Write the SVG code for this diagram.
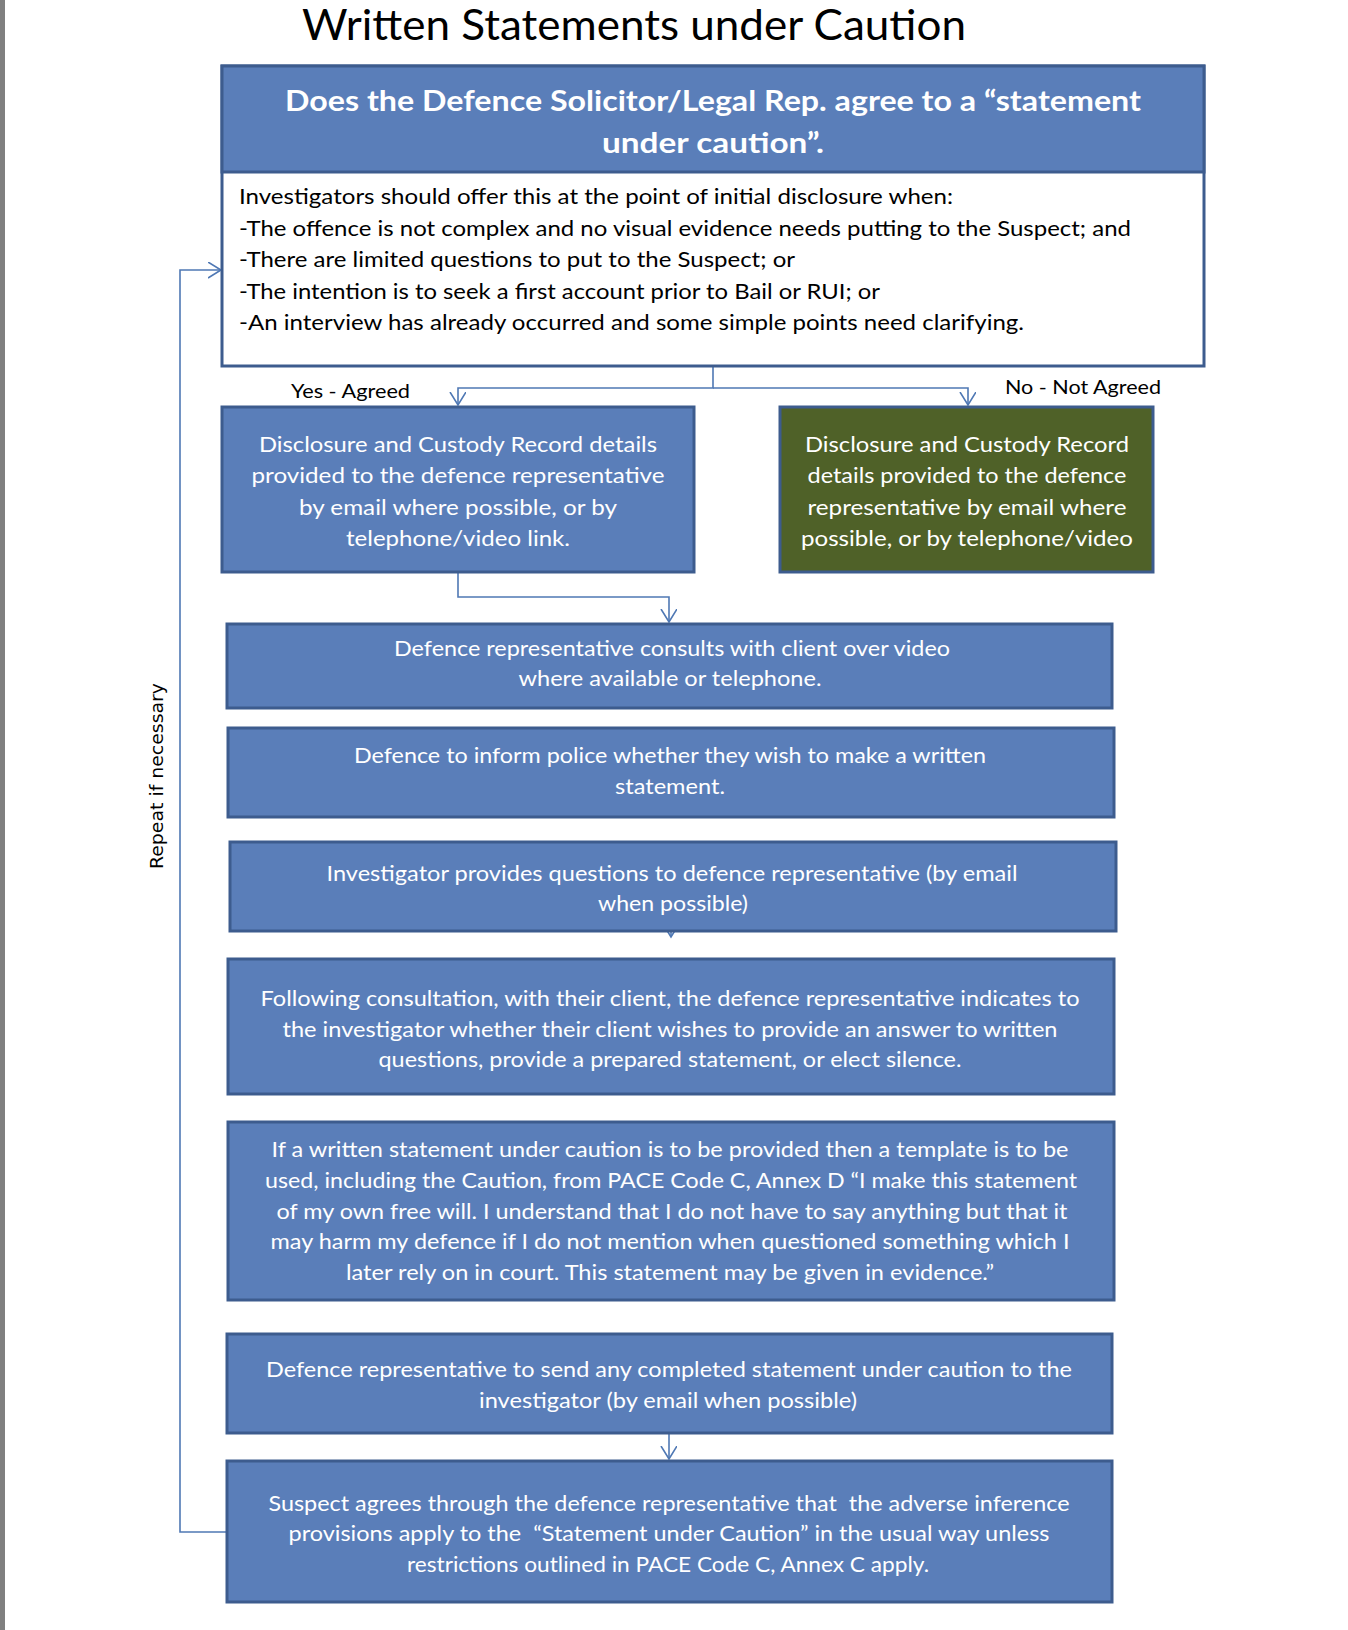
<svg xmlns="http://www.w3.org/2000/svg" width="1348" height="1630" viewBox="0 0 1348 1630">
<defs>
<style>
.box{fill:#5A7EB9;stroke:#3D5C8E;stroke-width:3}
.olive{fill:#4F6128;stroke:#3D5C8E;stroke-width:3}
.white{fill:#FFFFFF;stroke:#3D5C8E;stroke-width:3}
.t{font-family:Lato,"Liberation Sans",sans-serif;font-size:22px;fill:#FFFFFF;text-anchor:middle}
.b{font-family:Lato,"Liberation Sans",sans-serif;font-size:22px;fill:#000000}
.h{font-family:Lato,"Liberation Sans",sans-serif;font-size:28px;font-weight:bold;fill:#FFFFFF;text-anchor:middle}
.lbl{font-family:Lato,"Liberation Sans",sans-serif;font-size:20px;fill:#000000}
.rep{font-family:"DejaVu Sans",sans-serif;font-size:18px;fill:#000000;text-anchor:middle}
.c{fill:none;stroke:#4F78B4;stroke-width:1.6}
</style>
<marker id="arr" markerUnits="userSpaceOnUse" markerWidth="16" markerHeight="18" refX="13" refY="8" orient="auto">
<path d="M0,0 L13,8 L0,16" fill="none" stroke="#4F78B4" stroke-width="1.6"/>
</marker>
</defs>
<rect x="0" y="0" width="1348" height="1630" fill="#FFFFFF"/>
<rect x="0" y="0" width="5" height="1630" fill="#808080"/>
<text x="634" y="40" font-family="Lato,'Liberation Sans',sans-serif" font-size="42" fill="#000000" text-anchor="middle" textLength="664" lengthAdjust="spacingAndGlyphs">Written Statements under Caution</text>

<g id="connectors">
<path class="c" d="M713,367 V388 H458 V405" marker-end="url(#arr)"/>
<path class="c" d="M713,388 H968 V405" marker-end="url(#arr)"/>
<path class="c" d="M458,572 V597 H669 V622" marker-end="url(#arr)"/>
<path class="c" d="M671,900 V937" marker-end="url(#arr)"/>
<path class="c" d="M669,1434 V1459" marker-end="url(#arr)"/>
<path class="c" d="M227,1532 H180 V270 H221" marker-end="url(#arr)"/>
</g>

<text class="rep" transform="translate(163,776) rotate(-90)" textLength="186" lengthAdjust="spacingAndGlyphs">Repeat if necessary</text>
<text class="lbl" x="291" y="398" textLength="119" lengthAdjust="spacingAndGlyphs">Yes - Agreed</text>
<text class="lbl" x="1005" y="394" textLength="156" lengthAdjust="spacingAndGlyphs">No - Not Agreed</text>

<g id="node-question">
<rect class="white" x="222" y="66" width="982" height="300"/>
<rect class="box" x="222" y="66" width="982" height="106"/>
<text class="h" x="713" y="111" textLength="856" lengthAdjust="spacingAndGlyphs">Does the Defence Solicitor/Legal Rep. agree to a “statement</text>
<text class="h" x="713" y="153" textLength="222" lengthAdjust="spacingAndGlyphs">under caution”.</text>
<text class="b" x="239" y="204" textLength="714" lengthAdjust="spacingAndGlyphs">Investigators should offer this at the point of initial disclosure when:</text>
<text class="b" x="239" y="236" textLength="892" lengthAdjust="spacingAndGlyphs">-The offence is not complex and no visual evidence needs putting to the Suspect; and</text>
<text class="b" x="239" y="267" textLength="556" lengthAdjust="spacingAndGlyphs">-There are limited questions to put to the Suspect; or</text>
<text class="b" x="239" y="299" textLength="641" lengthAdjust="spacingAndGlyphs">-The intention is to seek a first account prior to Bail or RUI; or</text>
<text class="b" x="239" y="330" textLength="785" lengthAdjust="spacingAndGlyphs">-An interview has already occurred and some simple points need clarifying.</text>
</g>

<g id="node-yes">
<rect class="box" x="222" y="407" width="472" height="165"/>
<text class="t" x="458" y="452" textLength="398" lengthAdjust="spacingAndGlyphs">Disclosure and Custody Record details</text>
<text class="t" x="458" y="483" textLength="413" lengthAdjust="spacingAndGlyphs">provided to the defence representative</text>
<text class="t" x="458" y="515" textLength="318" lengthAdjust="spacingAndGlyphs">by email where possible, or by</text>
<text class="t" x="458" y="546" textLength="224" lengthAdjust="spacingAndGlyphs">telephone/video link.</text>
</g>

<g id="node-no">
<rect class="olive" x="780" y="407" width="373" height="165"/>
<text class="t" x="967" y="452" textLength="324" lengthAdjust="spacingAndGlyphs">Disclosure and Custody Record</text>
<text class="t" x="967" y="483" textLength="319" lengthAdjust="spacingAndGlyphs">details provided to the defence</text>
<text class="t" x="967" y="515" textLength="319" lengthAdjust="spacingAndGlyphs">representative by email where</text>
<text class="t" x="967" y="546" textLength="332" lengthAdjust="spacingAndGlyphs">possible, or by telephone/video</text>
</g>

<g id="node-consult">
<rect class="box" x="227" y="624" width="885" height="84"/>
<text class="t" x="672" y="656" textLength="556" lengthAdjust="spacingAndGlyphs">Defence representative consults with client over video</text>
<text class="t" x="670" y="686" textLength="303" lengthAdjust="spacingAndGlyphs">where available or telephone.</text>
</g>

<g id="node-inform">
<rect class="box" x="228" y="728" width="886" height="89"/>
<text class="t" x="670" y="763" textLength="632" lengthAdjust="spacingAndGlyphs">Defence to inform police whether they wish to make a written</text>
<text class="t" x="670" y="794" textLength="110" lengthAdjust="spacingAndGlyphs">statement.</text>
</g>

<g id="node-questions">
<rect class="box" x="230" y="842" width="886" height="89"/>
<text class="t" x="672" y="881" textLength="691" lengthAdjust="spacingAndGlyphs">Investigator provides questions to defence representative (by email</text>
<text class="t" x="673" y="911" textLength="150" lengthAdjust="spacingAndGlyphs">when possible)</text>
</g>

<g id="node-indicate">
<rect class="box" x="228" y="959" width="886" height="135"/>
<text class="t" x="670" y="1006" textLength="819" lengthAdjust="spacingAndGlyphs">Following consultation, with their client, the defence representative indicates to</text>
<text class="t" x="670" y="1037" textLength="775" lengthAdjust="spacingAndGlyphs">the investigator whether their client wishes to provide an answer to written</text>
<text class="t" x="670" y="1067" textLength="583" lengthAdjust="spacingAndGlyphs">questions, provide a prepared statement, or elect silence.</text>
</g>

<g id="node-template">
<rect class="box" x="228" y="1122" width="886" height="178"/>
<text class="t" x="670" y="1157" textLength="797" lengthAdjust="spacingAndGlyphs">If a written statement under caution is to be provided then a template is to be</text>
<text class="t" x="671" y="1188" textLength="812" lengthAdjust="spacingAndGlyphs">used, including the Caution, from PACE Code C, Annex D “I make this statement</text>
<text class="t" x="672" y="1219" textLength="791" lengthAdjust="spacingAndGlyphs">of my own free will. I understand that I do not have to say anything but that it</text>
<text class="t" x="670" y="1249" textLength="799" lengthAdjust="spacingAndGlyphs">may harm my defence if I do not mention when questioned something which I</text>
<text class="t" x="670" y="1280" textLength="648" lengthAdjust="spacingAndGlyphs">later rely on in court. This statement may be given in evidence.”</text>
</g>

<g id="node-send">
<rect class="box" x="227" y="1334" width="885" height="99"/>
<text class="t" x="669" y="1377" textLength="806" lengthAdjust="spacingAndGlyphs">Defence representative to send any completed statement under caution to the</text>
<text class="t" x="668" y="1408" textLength="378" lengthAdjust="spacingAndGlyphs">investigator (by email when possible)</text>
</g>

<g id="node-suspect">
<rect class="box" x="227" y="1461" width="885" height="141"/>
<text class="t" x="669" y="1511" textLength="801" lengthAdjust="spacingAndGlyphs" xml:space="preserve">Suspect agrees through the defence representative that  the adverse inference</text>
<text class="t" x="669" y="1541" textLength="761" lengthAdjust="spacingAndGlyphs" xml:space="preserve">provisions apply to the  “Statement under Caution” in the usual way unless</text>
<text class="t" x="668" y="1572" textLength="522" lengthAdjust="spacingAndGlyphs">restrictions outlined in PACE Code C, Annex C apply.</text>
</g>
</svg>
